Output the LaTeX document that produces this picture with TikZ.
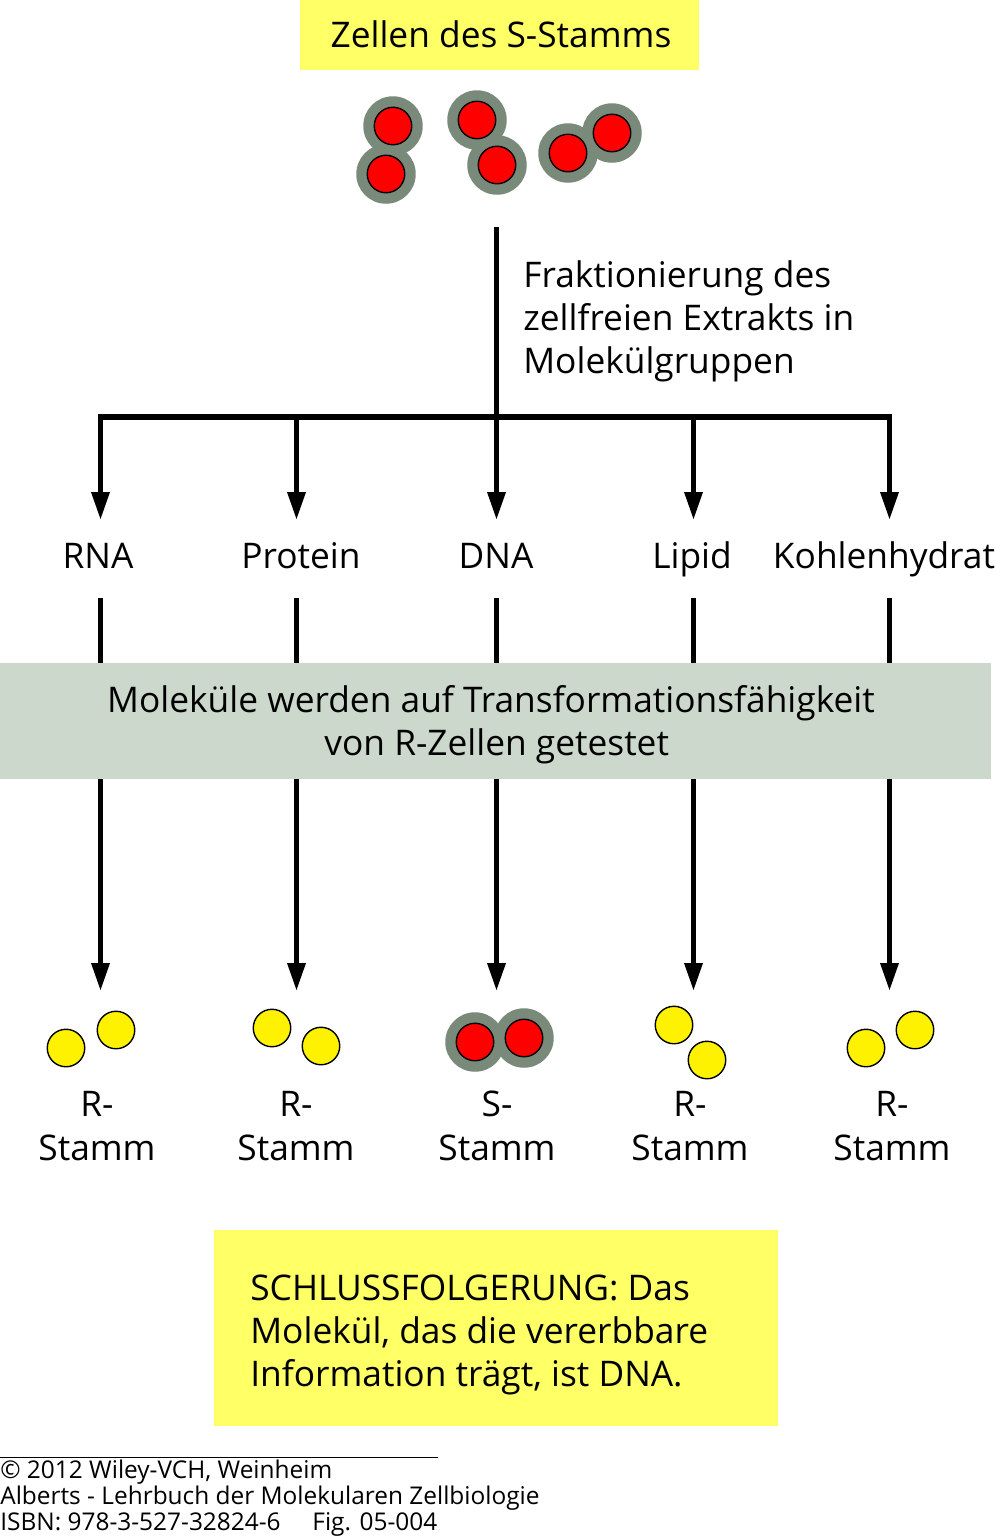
\documentclass[tikz,border=0pt]{standalone}
\usepackage{fontspec}
\setmainfont{Open Sans}
\usepackage{tikz}
\usetikzlibrary{arrows.meta}
\definecolor{boxyellow}{HTML}{FFFF66}
\definecolor{bandgreen}{HTML}{CBD8CB}
\definecolor{wallgray}{HTML}{7A8A7A}
\tikzset{
  bigtext/.style={font=\fontsize{20.1}{24.66}\selectfont,inner sep=0pt},
  smalltext/.style={font=\fontsize{13.9}{14.74}\selectfont,inner sep=0pt},
  wall/.style={circle,fill=wallgray,inner sep=0pt,minimum size=1.19cm},
  core/.style={circle,draw=black,line width=0.8pt,fill=red,inner sep=0pt,minimum size=0.75cm},
  rcell/.style={circle,draw=black,line width=0.8pt,fill=yellow,inner sep=0pt,minimum size=0.75cm},
  thick line/.style={line width=3.1pt},
  thick arrow/.style={line width=3.1pt,-{Triangle[length=15.3pt,width=10.8pt,line width=0pt]}}
}
\begin{document}
\begin{tikzpicture}[x=0.02cm,y=-0.02cm]
\useasboundingbox (0,0) rectangle (995,1536);

% boxes
\fill[boxyellow] (300,0) rectangle (699,70);
\fill[bandgreen] (0,663) rectangle (991,779);
\fill[boxyellow] (214,1230) rectangle (778,1426);

\begin{scope}[every node/.style={bigtext}]
    \node[anchor=base] (title) at (501,47.5) {Zellen des S-Stamms};
    \node[align=left,anchor=north west] (fract) at (523,260) {Fraktionierung des\\zellfreien Extrakts in\\Molekülgruppen};

    \node[anchor=base] (rna) at (98,568.5) {RNA};
    \node[anchor=base] (prot) at (301,568.5) {Protein};
    \node[anchor=base] (dna) at (496,568.5) {DNA};
    \node[anchor=base] (lip) at (692,568.5) {Lipid};
    \node[anchor=base] (carb) at (884,568.5) {Kohlenhydrat};

    \node[align=center] (test) at (491,725) {Moleküle werden auf Transformationsfähigkeit\\\hspace*{6.5pt}von R-Zellen getestet};

    \node[align=center] (r1) at (97,1126) {R-\\Stamm};
    \node[align=center] (r2) at (296,1126) {R-\\Stamm};
    \node[align=center] (s3) at (497,1126) {S-\\Stamm};
    \node[align=center] (r4) at (690,1126) {R-\\Stamm};
    \node[align=center] (r5) at (892,1126) {R-\\Stamm};

    \node[align=left,anchor=west] (concl) at (250,1335) {SCHLUSSFOLGERUNG: Das\\Molekül, das die vererbbare\\Information trägt, ist DNA.};
\end{scope}

% S cells at the top
\begin{scope}[every node/.style={wall}]
    \node (wa) at (393,126) {};
    \node (wb) at (386,174) {};
    \node (wc) at (477,120) {};
    \node (wd) at (497,165) {};
    \node (we) at (568,153) {};
    \node (wf) at (612,133) {};
    \node (wg) at (475,1042) {};
    \node (wh) at (524,1038) {};
\end{scope}
\begin{scope}[every node/.style={core}]
    \node (ca) at (wa) {};
    \node (cb) at (wb) {};
    \node (cc) at (wc) {};
    \node (cd) at (wd) {};
    \node (ce) at (we) {};
    \node (cf) at (wf) {};
    \node (cg) at (wg) {};
    \node (ch) at (wh) {};
\end{scope}

% R cells
\begin{scope}[every node/.style={rcell}]
    \node (ya) at (66,1048) {};
    \node (yb) at (116,1030) {};
    \node (yc) at (272,1028) {};
    \node (yd) at (321,1046) {};
    \node (ye) at (674,1025) {};
    \node (yf) at (707,1060) {};
    \node (yg) at (866,1048) {};
    \node (yh) at (915,1030) {};
\end{scope}

% branch points
\coordinate (top) at (496.5,227);
\coordinate (hub) at (496.5,417);
\coordinate (bra) at (100.5,417);
\coordinate (brb) at (296.5,417);
\coordinate (brd) at (693.5,417);
\coordinate (bre) at (889.5,417);
\coordinate (ena) at (100.5,519);
\coordinate (enb) at (296.5,519);
\coordinate (enc) at (496.5,519);
\coordinate (end) at (693.5,519);
\coordinate (ene) at (889.5,519);

\draw[thick line] (top) -- (hub);
\draw[thick line,line cap=rect] (bra) -- (bre);
\draw[thick arrow] (bra) -- (ena);
\draw[thick arrow] (brb) -- (enb);
\draw[thick arrow] (hub) -- (enc);
\draw[thick arrow] (brd) -- (end);
\draw[thick arrow] (bre) -- (ene);

% stubs down to the band
\draw[thick line] (100.5,598) -- (100.5,663);
\draw[thick line] (296.5,598) -- (296.5,663);
\draw[thick line] (496.5,598) -- (496.5,663);
\draw[thick line] (693.5,598) -- (693.5,663);
\draw[thick line] (889.5,598) -- (889.5,663);

% arrows below the band
\draw[thick arrow] (100.5,779) -- (100.5,990);
\draw[thick arrow] (296.5,779) -- (296.5,990);
\draw[thick arrow] (496.5,779) -- (496.5,990);
\draw[thick arrow] (693.5,779) -- (693.5,990);
\draw[thick arrow] (889.5,779) -- (889.5,990);

% footer
\coordinate (fa) at (0,1457.5);
\coordinate (fb) at (438,1457.5);
\draw[line width=0.9pt] (fa) -- (fb);
\node[smalltext,align=left,anchor=north west] (foot) at (0,1460) {© 2012 Wiley-VCH, Weinheim\\Alberts - Lehrbuch der Molekularen Zellbiologie\\ISBN: 978-3-527-32824-6\hspace{1.3em}Fig. 05-004};
\end{tikzpicture}
\end{document}
